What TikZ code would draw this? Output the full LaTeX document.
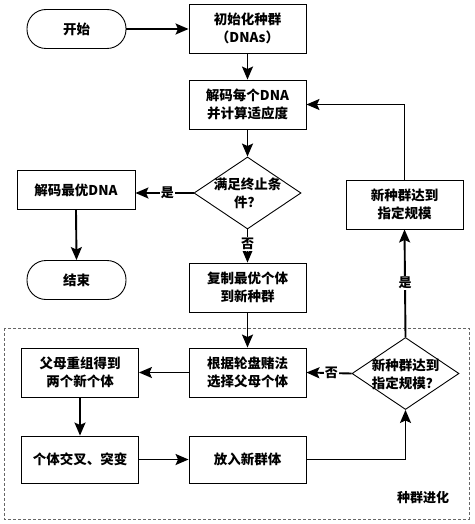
\documentclass[tikz,border=0pt]{standalone}
\usepackage{fontspec}
\setmainfont{Noto Sans CJK SC}
\usetikzlibrary{arrows.meta,shapes.geometric}
\tikzset{
  box/.style={draw, line width=0.9pt, minimum width=117pt, minimum height=49pt, align=center, inner sep=1pt, font=\fontsize{13.5}{18}\selectfont\bfseries},
  term/.style={draw, line width=0.9pt, minimum width=99pt, minimum height=39pt, rounded corners=19pt, font=\fontsize{13.5}{18}\selectfont\bfseries},
  dia/.style={draw, diamond, line width=0.9pt, minimum width=107pt, minimum height=72pt, inner sep=0pt},
  diatext/.style={align=center, inner sep=0pt, font=\fontsize{13.5}{18}\selectfont\bfseries},
  arr/.style={line width=1.9pt, -{Stealth[length=13pt,width=11pt,inset=2.5pt]}},
  lab/.style={fill=white, inner sep=1pt, font=\fontsize{13}{15}\selectfont\bfseries},
}
\begin{document}
\begin{tikzpicture}[x=1pt,y=-1pt]
\useasboundingbox[fill=white] (0,0) rectangle (474,524);
% dashed region
\draw[gray!80!black, line width=0.8pt, dash pattern=on 3pt off 2pt] (4,328) rectangle (469,519);
\node[font=\fontsize{13}{15}\selectfont\bfseries] (evo) at (423,498) {种群进化};
% nodes
\node[term] (start) at (76.5,29) {开始};
\node[box] (init) at (247.5,28.5) {初始化种群\\（DNAs）};
\node[box] (decode) at (247.5,104.5) {解码每个DNA\\并计算适应度};
\node[dia] (d1) at (247.5,193) {};
\node[diatext] (d1t) at (247.5,193) {满足终止条\\件？};
\node[box, minimum width=118pt, minimum height=39pt] (best) at (76,190) {解码最优DNA};
\node[term] (end) at (76.5,280) {结束};
\node[box] (copy) at (247.5,287.5) {复制最优个体\\到新种群};
\node[box] (roul) at (247.5,372.5) {根据轮盘赌法\\选择父母个体};
\node[box] (parent) at (80,372.5) {父母重组得到\\两个新个体};
\node[box, minimum height=47pt] (cross) at (80,459.5) {个体交叉、突变};
\node[box, minimum height=47pt] (put) at (247.5,459.5) {放入新群体};
\node[dia] (d2) at (405.5,373.5) {};
\node[diatext] (d2t) at (405.5,374.5) {新种群达到\\指定规模？};
\node[box] (reach) at (404.5,204.5) {新种群达到\\指定规模};
% connectors
\draw[arr] (start.east) -- (start.east -| init.west);
\draw[arr] (init.south) -- (decode.north);
\draw[arr] (decode.south) -- (d1.north);
\draw[arr] (d1.west) -- (d1.west -| best.east) node[lab, pos=0.45] (yes1) {是};
\draw[arr] (best.south) -- (end.north);
\draw[arr] (d1.south) -- (copy.north) node[lab, pos=0.45] (no1) {否};
\draw[arr] (copy.south) -- (roul.north);
\draw[arr] (roul.west) -- (parent.east);
\draw[arr] (parent.south) -- (cross.north);
\draw[arr] (cross.east) -- (put.west);
\draw[arr] (put.east) -| (d2.south);
\draw[arr] (d2.west) -- (roul.east) node[lab, pos=0.45] (no2) {否};
\draw[arr] (d2.north) -- (reach.south) node[lab, pos=0.5] (yes2) {是};
\draw[arr] (reach.north) |- (decode.east);
\end{tikzpicture}
\end{document}
